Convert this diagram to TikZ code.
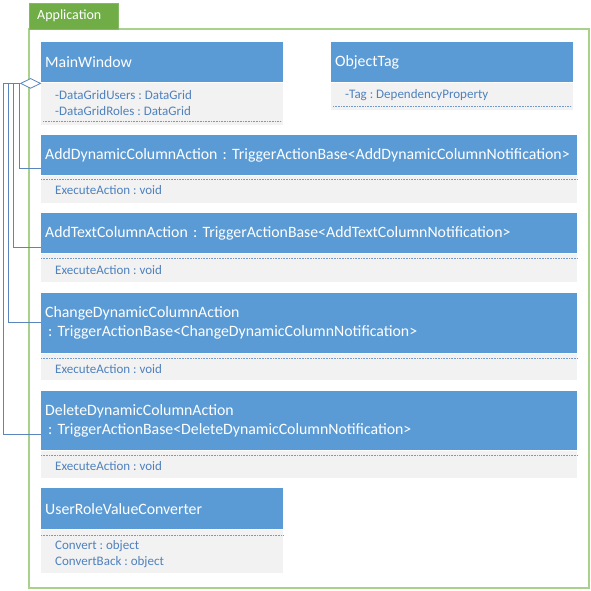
\documentclass[tikz,border=0pt]{standalone}
\usepackage{fontspec}
\setmainfont{Carlito}
\usetikzlibrary{calc,shapes.geometric}
\definecolor{headfill}{HTML}{5B9BD5}
\definecolor{bodyfill}{HTML}{F2F2F2}
\definecolor{membertext}{HTML}{4F81BD}
\definecolor{linkblue}{HTML}{5B85BD}
\definecolor{framegreen}{HTML}{A9D18E}
\definecolor{tabgreen}{HTML}{70AD47}
\tikzset{
	classhead/.style={fill=headfill, text=white, anchor=north west, align=left, inner xsep=4pt, inner ysep=0pt, font=\fontsize{15.8}{19}\selectfont},
	classbody/.style={fill=bodyfill, anchor=north west, inner sep=0pt},
	member/.style={text=membertext, anchor=west, align=left, inner sep=0pt, font=\fontsize{13}{15.5}\selectfont},
	sepline/.style={densely dotted, color=membertext!80, line width=0.6pt},
	link/.style={draw=linkblue, line width=0.8pt}
}
\frenchspacing
\begin{document}
\begin{tikzpicture}[x=1pt, y=-1pt]
			%%%%% START %%%%%
			\useasboundingbox (0, 0) rectangle (591, 591);
			
			\draw[framegreen, line width=1.2pt] (29, 29) rectangle (589, 588);
			\node[fill=tabgreen, draw=tabgreen!85!white, text=white, anchor=north west, minimum width=89pt, minimum height=26pt, inner xsep=8pt, align=left, text width=73pt, font=\fontsize{14}{16}\selectfont] (app) at (29, 3) {Application};
			
			%% class headers
			\node[classhead, text width=234pt, minimum height=40pt] (mwh) at (41, 42) {MainWindow};
			\node[classhead, text width=234pt, minimum height=40pt] (oth) at (331, 42) {ObjectTag};
			\node[classhead, text width=528pt, minimum height=40pt] (adh) at (41, 135) {AddDynamicColumnAction : TriggerActionBase<AddDynamicColumnNotification>};
			\node[classhead, text width=528pt, minimum height=40pt] (ath) at (41, 213) {AddTextColumnAction : TriggerActionBase<AddTextColumnNotification>};
			\node[classhead, text width=528pt, minimum height=60pt] (cdh) at (41, 293) {ChangeDynamicColumnAction\\\hspace*{3pt}: TriggerActionBase<ChangeDynamicColumnNotification>};
			\node[classhead, text width=528pt, minimum height=59pt] (ddh) at (41, 391) {DeleteDynamicColumnAction\\\hspace*{3pt}: TriggerActionBase<DeleteDynamicColumnNotification>};
			\node[classhead, text width=234pt, minimum height=41pt] (urh) at (41, 488) {UserRoleValueConverter};
			
			%% class bodies
			\node[classbody, minimum width=242pt, minimum height=42pt] (mwb) at (mwh.south west) {};
			\node[classbody, minimum width=242pt, minimum height=27pt] (otb) at (oth.south west) {};
			\node[classbody, minimum width=536pt, minimum height=27pt] (adb) at (adh.south west) {};
			\node[classbody, minimum width=536pt, minimum height=28pt] (atb) at (ath.south west) {};
			\node[classbody, minimum width=536pt, minimum height=26pt] (cdb) at (cdh.south west) {};
			\node[classbody, minimum width=536pt, minimum height=27pt] (ddb) at (ddh.south west) {};
			\node[classbody, minimum width=242pt, minimum height=43pt] (urb) at (urh.south west) {};
			
			%% separators
			\draw[sepline] ([xshift=2pt, yshift=3pt]mwb.south west) -- ([xshift=-2pt, yshift=3pt]mwb.south east);
			\draw[sepline] ([xshift=2pt, yshift=3pt]otb.south west) -- ([xshift=-2pt, yshift=3pt]otb.south east);
			\draw[sepline] ([yshift=-4pt]adb.north west) -- ([yshift=-4pt]adb.north east);
			\draw[sepline] ([yshift=-5pt]atb.north west) -- ([yshift=-5pt]atb.north east);
			\draw[sepline] ([yshift=-5pt]cdb.north west) -- ([yshift=-5pt]cdb.north east);
			\draw[sepline] ([yshift=-5pt]ddb.north west) -- ([yshift=-5pt]ddb.north east);
			\draw[sepline] ([yshift=-6pt]urb.north west) -- ([yshift=-6pt]urb.north east);
			
			%% members
			\node[member] (mwm) at ([xshift=14pt, yshift=-20.5pt]mwb.north west) {-DataGridUsers : DataGrid\\-DataGridRoles : DataGrid};
			\node[member] (otm) at ([xshift=14pt, yshift=-13pt]otb.north west) {-Tag : DependencyProperty};
			\node[member] (adm) at ([xshift=14pt, yshift=-15pt]adb.north west) {ExecuteAction : void};
			\node[member] (atm) at ([xshift=14pt, yshift=-17pt]atb.north west) {ExecuteAction : void};
			\node[member] (cdm) at ([xshift=14pt, yshift=-16pt]cdb.north west) {ExecuteAction : void};
			\node[member] (ddm) at ([xshift=14pt, yshift=-16pt]ddb.north west) {ExecuteAction : void};
			\node[member] (urm) at ([xshift=14pt, yshift=-24.5pt]urb.north west) {Convert : object\\ConvertBack : object};
			
			%% aggregation
			\node[diamond, draw=linkblue, line width=0.8pt, fill=white, inner sep=0pt, minimum width=20pt, minimum height=10pt, anchor=east] (agg) at ([yshift=-1pt]mwh.south west) {};
			\draw[link] (agg.west) -| ([xshift=-22pt, yshift=-13pt]adh.west) -- ([yshift=-13pt]adh.west);
			\draw[link] (agg.west) -| ([xshift=-28pt, yshift=-14pt]ath.west) -- ([yshift=-14pt]ath.west);
			\draw[link] (agg.west) -| ([xshift=-33pt, yshift=1pt]cdh.west) -- ([yshift=1pt]cdh.west);
			\draw[link] (agg.west) -| ([xshift=-38pt, yshift=-13.5pt]ddh.west) -- ([yshift=-13.5pt]ddh.west);
			
			%%%%% END %%%%%
\end{tikzpicture}
\end{document}
